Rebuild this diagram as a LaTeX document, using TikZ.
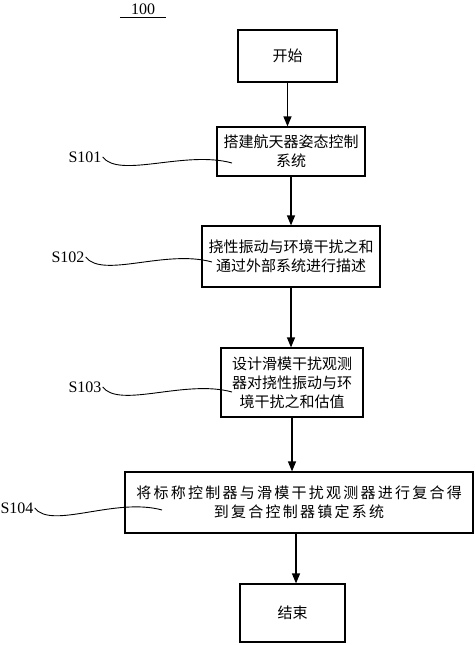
\documentclass[tikz,border=0pt]{standalone}
\usepackage{fontspec}
\setmainfont{Liberation Serif}
\newfontfamily\cjk{Noto Sans CJK SC}
\newfontfamily\cjkwide[LetterSpace=15]{Noto Sans CJK SC}
\usetikzlibrary{arrows.meta}
\tikzset{
  box/.style={draw, line width=1.2pt, align=center, inner sep=0pt, font=\cjk\fontsize{15}{19}\selectfont},
  lbl/.style={inner sep=1pt, font=\fontsize{16}{18}\selectfont},
  flow/.style={line width=1.2pt, -{Triangle[width=8pt,length=10pt]}},
  lead/.style={line width=0.9pt}
}
\begin{document}
\begin{tikzpicture}[x=1pt,y=-1pt]
\useasboundingbox (0,0) rectangle (474,645);
\node[lbl, anchor=south, minimum width=46pt, inner ysep=2pt] (lid0) at (143,17){100};
\draw[line width=1pt](lid0.south west) -- (lid0.south east);
\node[box, minimum width=99pt, minimum height=52pt] (bid0) at (287.5,56){开始};
\node[box, minimum width=148pt, minimum height=49pt] (bid1) at (291,151.5){搭建航天器姿态控制\\系统};
\node[box, minimum width=178pt, minimum height=61pt] (bid2) at (291,256.5){挠性振动与环境干扰之和\\通过外部系统进行描述};
\node[box, minimum width=142pt, minimum height=69pt] (bid3) at (292,382.5){设计滑模干扰观测\\器对挠性振动与环\\境干扰之和估值};
\node[box, minimum width=348pt, minimum height=61pt, font=\cjkwide\fontsize{15}{19}\selectfont] (bid4) at (299,502.5){将标称控制器与滑模干扰观测器进行复合得\\到复合控制器镇定系统};
\node[box, minimum width=105pt, minimum height=58pt] (bid5) at (292.5,613){结束};
\draw[flow](bid0.south) -- (bid0.south |- bid1.north);
\draw[flow](bid1.south) -- (bid1.south |- bid2.north);
\draw[flow](bid2.south) -- (bid2.south |- bid3.north);
\draw[flow](bid3.south) -- (bid3.south |- bid4.north);
\draw[flow]([xshift=-3pt]bid4.south) -- ([xshift=-3pt]bid4.south |- bid5.north);
\node[lbl] (lid1) at (85,157){S101};
\coordinate (cid1) at (232,163);
\draw[lead](lid1.east) .. controls +(17,22) and +(-47,-13) .. (cid1);
\node[lbl] (lid2) at (68,257){S102};
\coordinate (cid2) at (212,262);
\draw[lead](lid2.east) .. controls +(17,22) and +(-47,-13) .. (cid2);
\node[lbl] (lid3) at (85,387){S103};
\coordinate (cid3) at (232,392);
\draw[lead](lid3.east) .. controls +(17,22) and +(-47,-13) .. (cid3);
\node[lbl] (lid4) at (17,508){S104};
\coordinate (cid4) at (162,510);
\draw[lead](lid4.east) .. controls +(17,22) and +(-47,-13) .. (cid4);
\end{tikzpicture}
\end{document}
